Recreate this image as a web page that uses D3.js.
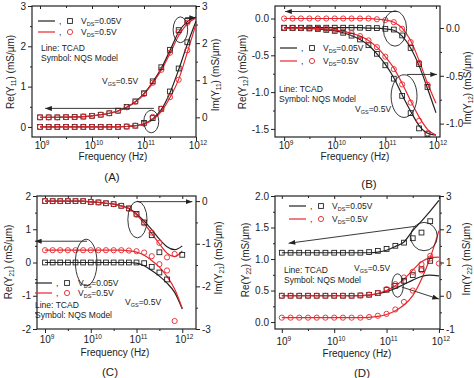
<!DOCTYPE html>
<html>
<head>
<meta charset="utf-8">
<script src="https://cdn.jsdelivr.net/npm/d3@7"></script>
<style>
  body { margin: 0; background: #fff; }
  svg { font-family: Arial, 'Liberation Sans', sans-serif; }
  .tick text { font-size: 10px; fill: #222; }
  .tick line { stroke: #222; }
</style>
</head>
<body>
<div id="graf"></div>
<script>
// I. Data
freq = [1e9, 1.47e9, 2.15e9, 3.16e9, 4.64e9, 6.81e9, 1e10, 1.47e10, 2.15e10, 3.16e10,
        4.64e10, 6.81e10, 1e11, 1.47e11, 2.15e11, 3.16e11, 4.64e11, 6.81e11, 1e12]
decades = [1e9, 1e10, 1e11, 1e12]
decadeExp = ['9', '10', '11', '12']
halfDecades = [3.16e8, 3.16e9, 3.16e10, 3.16e11, 3.16e12]

// (A) Y11
reY11Line005 = [0, 0, 0, 0, 0, 0, 0, 0, 0, 0, 0.01, 0.03, 0.08, 0.2, 0.43, 0.85, 1.42, 2.05, 2.62]
reY11Line05  = [0, 0, 0, 0, 0, 0, 0, 0, 0, 0, 0.01, 0.03, 0.07, 0.18, 0.38, 0.73, 1.18, 1.85, 2.55]
reY11Sym005  = [0, 0, 0, 0, 0, 0, 0, 0, 0, 0, 0.01, 0.03, 0.1, 0.22, 0.45, 0.88, 1.45, 2.1, null]
reY11Sym05   = [0, 0, 0, 0, 0, 0, 0, 0, 0, 0, 0.01, 0.03, 0.08, 0.25, 0.45, 0.74, 1.17, 1.9, null]
imY11Line005 = [0, 0, 0, 0.005, 0.01, 0.02, 0.04, 0.07, 0.11, 0.17, 0.27, 0.42, 0.64, 0.95, 1.32, 1.8, 2.3, 2.58, 2.7]
imY11Line05  = [0, 0, 0, 0.005, 0.01, 0.02, 0.04, 0.07, 0.11, 0.17, 0.27, 0.41, 0.62, 0.92, 1.27, 1.72, 2.2, 2.52, 2.68]
imY11Sym005  = [0, 0, 0, 0.005, 0.01, 0.02, 0.04, 0.07, 0.11, 0.18, 0.28, 0.43, 0.65, 0.97, 1.35, 1.82, 2.35, 2.6, null]
imY11Sym05   = [0, 0, 0, 0.005, 0.01, 0.02, 0.04, 0.07, 0.11, 0.17, 0.27, 0.42, 0.63, 0.93, 1.28, 1.74, 2.3, 2.55, null]

// (B) Y12
reY12Line005 = [-0.125, -0.125, -0.125, -0.125, -0.125, -0.125, -0.125, -0.125, -0.125, -0.125, -0.13, -0.13, -0.14, -0.16, -0.24, -0.4, -0.64, -0.95, -1.28]
reY12Line05  = [0, 0, 0, 0, 0, 0, 0, 0, 0, 0, 0, -0.01, -0.02, -0.05, -0.13, -0.3, -0.57, -0.88, -1.15]
reY12Sym005  = [-0.125, -0.125, -0.125, -0.125, -0.125, -0.125, -0.125, -0.125, -0.125, -0.125, -0.13, -0.13, -0.14, -0.15, -0.23, -0.4, -0.62, -0.93, null]
reY12Sym05   = [0, 0, 0, 0, 0, 0, 0, 0, 0, 0, 0, -0.01, -0.02, -0.05, -0.14, -0.32, -0.6, -0.9, null]
imY12Line005 = [0, 0, 0, -0.005, -0.01, -0.02, -0.03, -0.05, -0.08, -0.12, -0.18, -0.27, -0.38, -0.52, -0.7, -0.87, -1.02, -1.1, -1.12]
imY12Line05  = [0, 0, 0, 0, -0.005, -0.01, -0.02, -0.035, -0.055, -0.085, -0.13, -0.2, -0.3, -0.42, -0.58, -0.76, -0.93, -1.06, -1.12]
imY12Sym005  = [0, 0, 0, -0.005, -0.01, -0.02, -0.03, -0.05, -0.08, -0.12, -0.18, -0.27, -0.39, -0.53, -0.71, -0.89, -1.05, -1.11, null]
imY12Sym05   = [0, 0, 0, 0, -0.005, -0.01, -0.02, -0.035, -0.055, -0.085, -0.13, -0.2, -0.3, -0.43, -0.59, -0.78, -0.97, -1.1, null]

// (C) Y21
reY21Line005 = [0, 0, 0, 0, 0, 0, 0, 0, 0, 0, 0, 0, -0.02, -0.1, -0.24, -0.41, -0.62, -0.9, -1.4]
reY21Line05  = [0.37, 0.37, 0.37, 0.37, 0.37, 0.37, 0.37, 0.37, 0.37, 0.37, 0.37, 0.35, 0.31, 0.22, 0.06, -0.14, -0.42, -0.8, -1.38]
reY21Sym005  = [0, 0, 0, 0, 0, 0, 0, 0, 0, 0, 0, 0, 0, -0.02, -0.13, -0.3, -0.51, null, null]
reY21Sym05   = [0.37, 0.37, 0.37, 0.37, 0.37, 0.37, 0.37, 0.37, 0.37, 0.37, 0.37, 0.36, 0.34, 0.3, 0.19, -0.05, -0.24, -1.76, null]
imY21Line005 = [0, 0, 0, 0, 0, 0, -0.02, -0.03, -0.05, -0.07, -0.11, -0.17, -0.3, -0.47, -0.67, -0.89, -1.07, -1.14, -1.05]
imY21Line05  = [0, 0, 0, 0, 0, 0, -0.02, -0.03, -0.05, -0.07, -0.11, -0.18, -0.32, -0.52, -0.76, -1.0, -1.22, -1.3, -1.17]
imY21Sym005  = [0, 0, 0, 0, 0, 0, -0.02, -0.03, -0.05, -0.07, -0.11, -0.17, -0.3, -0.5, -0.8, -1.2, null, null, -1.26]
imY21Sym05   = [0, 0, 0, 0, 0, 0, -0.02, -0.03, -0.05, -0.07, -0.11, -0.18, -0.32, -0.52, -0.74, -0.98, -1.32, -1.24, null]

// (D) Y22
reY22Line005 = [1.1, 1.1, 1.1, 1.1, 1.1, 1.1, 1.1, 1.1, 1.1, 1.1, 1.1, 1.11, 1.14, 1.2, 1.27, 1.45, 1.6, 1.76, 1.93]
reY22Line05  = [0.07, 0.07, 0.07, 0.07, 0.07, 0.07, 0.07, 0.07, 0.07, 0.07, 0.075, 0.09, 0.12, 0.18, 0.27, 0.42, 0.68, 1.02, 1.45]
reY22Sym005  = [1.1, 1.1, 1.1, 1.1, 1.1, 1.1, 1.1, 1.1, 1.1, 1.1, 1.11, 1.13, 1.16, 1.21, 1.26, 1.33, 1.42, 1.6, null]
reY22Sym05   = [0.07, 0.07, 0.07, 0.07, 0.07, 0.07, 0.07, 0.07, 0.07, 0.07, 0.08, 0.1, 0.13, 0.2, 0.32, 0.5, 0.82, 1.05, null]
imY22Line005 = [0, 0, 0, 0, 0, 0, 0, 0, 0, 0.005, 0.02, 0.06, 0.13, 0.22, 0.34, 0.47, 0.58, 0.62, 0.6]
imY22Line05  = [0, 0, 0, 0, 0, 0, 0, 0, 0, 0.005, 0.02, 0.07, 0.16, 0.3, 0.5, 0.77, 1.02, 1.14, 1.16]
imY22Sym005  = [0, 0, 0, 0, 0, 0, 0, 0, 0, 0.01, 0.03, 0.08, 0.18, 0.3, 0.45, 0.62, 0.8, 1.05, null]
imY22Sym05   = [0, 0, 0, 0, 0, 0, 0, 0, 0, 0.01, 0.03, 0.08, 0.2, 0.35, 0.55, 0.72, 0.95, 1.12, 0.97]

// II. Configuración
ancho_total = 474
alto_total = 378
negro = '#222'
rojo = '#e8262d'

svg = d3.select('#graf').append('svg')
        .attr('width', ancho_total)
        .attr('height', alto_total)

defs = svg.append('defs')
defs.append('marker')
    .attr('id', 'flecha')
    .attr('viewBox', '0 0 8 6')
    .attr('refX', 8).attr('refY', 3)
    .attr('markerWidth', 7).attr('markerHeight', 5)
    .attr('markerUnits', 'userSpaceOnUse')
    .attr('orient', 'auto')
  .append('path')
    .attr('d', 'M0,0 L8,3 L0,6 Z')
    .attr('fill', negro)

fix = d => d.toFixed(1)
ent = d => String(d)

paneles = [
  { id: 'A', x0: 32, x1: 196, y0: 6, y1: 137, xd: [Math.pow(10, 8.846), 1e12],
    yL: [-0.25, 3], yR: [-0.53, 3], tL: [0, 1, 2, 3], mL: [0.5, 1.5, 2.5], tR: [0, 1, 2, 3], mR: [0.5, 1.5, 2.5],
    fL: ent, fR: ent, sub: '11',
    titL: [10, 72], titR: [215, 75], tickY: 149, freq: [113, 160], label: [112, 181],
    re: [reY11Line005, reY11Line05, reY11Sym005, reY11Sym05],
    im: [imY11Line005, imY11Line05, imY11Sym005, imY11Sym05],
    leg: [38, 21, 11], info: [41, 51], vgs: [102, 84],
    elipses: [[11.14, 0.134, 0.144, 0.28], [11.7, 2.41, 0.14, 0.32]],
    flechas: [[11.19, 0.46, 9.1, 0.46], [11.79, 2.71, 12.0, 2.71]] },
  { id: 'B', x0: 275, x1: 440, y0: 6, y1: 137, xd: [Math.pow(10, 8.82), Math.pow(10, 12.08)],
    yL: [-1.61, 0.17], yR: [-1.14, 0.23], tL: [0, -0.5, -1, -1.5], mL: [-0.25, -0.75, -1.25], tR: [0, -0.5, -1], mR: [-0.25, -0.75],
    fL: fix, fR: fix, sub: '12',
    titL: [242, 72], titR: [467, 88], tickY: 149, freq: [355, 160], label: [369, 188],
    re: [reY12Line005, reY12Line05, reY12Sym005, reY12Sym05],
    im: [imY12Line005, imY12Line05, imY12Sym005, imY12Sym05],
    leg: [280, 48, 13], info: [279, 92], vgs: [355, 112],
    elipses: [[11.19, -0.136, 0.23, 0.24], [11.37, -1.054, 0.256, 0.29]],
    flechas: [[11.23, 0.095, 9.02, 0.095], [11.43, -0.76, 12.02, -0.76]] },
  { id: 'C', x0: 37, x1: 196, y0: 196, y1: 329, xd: [Math.pow(10, 8.825), Math.pow(10, 12.3)],
    yL: [-2, 2], yR: [-3, 0.12], tL: [2, 1, 0, -1, -2], mL: [1.5, 0.5, -0.5, -1.5], tR: [0, -1, -2, -3], mR: [-0.5, -1.5, -2.5],
    fL: ent, fR: ent, sub: '21',
    titL: [8, 262], titR: [218, 258], tickY: 343, freq: [115, 356], label: [110, 376],
    re: [reY21Line005, reY21Line05, reY21Sym005, reY21Sym05],
    im: [imY21Line005, imY21Line05, imY21Sym005, imY21Sym05],
    leg: [35, 283, 10], info: [35, 308], vgs: [125, 305],
    elipses: [[11.02, 1.29, 0.21, 0.55], [9.9, 0, 0.236, 0.7]],
    flechas: [[11.01, 1.83, 12.22, 1.83], [9.92, 0.64, 8.78, 0.64]] },
  { id: 'D', x0: 275, x1: 440, y0: 196, y1: 329, xd: [Math.pow(10, 8.87), Math.pow(10, 12.02)],
    yL: [-0.11, 2], yR: [-1, 3], tL: [0, 0.5, 1, 1.5, 2], mL: [0.25, 0.75, 1.25, 1.75], tR: [-1, 0, 1, 2, 3], mR: [-0.5, 0.5, 1.5, 2.5],
    fL: fix, fR: ent, sub: '22',
    titL: [245, 260], titR: [466, 259], tickY: 345, freq: [357, 357], label: [362, 377],
    re: [reY22Line005, reY22Line05, reY22Sym005, reY22Sym05],
    im: [imY22Line005, imY22Line05, imY22Sym005, imY22Sym05],
    leg: [289, 206, 13], info: [284, 273], vgs: [354, 271],
    elipses: [[11.715, 1.357, 0.254, 0.225], [11.21, 0.58, 0.11, 0.186]],
    flechas: [[11.56, 1.52, 9.13, 1.25], [11.29, 0.556, 12.0, 0.365]] }
]

// III. Helpers
function tituloY(g, cx, cy, parte, sub) {
  t = g.append('text')
       .attr('transform', `translate(${cx},${cy}) rotate(-90)`)
       .attr('text-anchor', 'middle')
       .attr('dy', '0.35em')
       .style('font-size', '10px')
       .attr('fill', negro)
  t.append('tspan').text(parte + '(Y')
  t.append('tspan').attr('dy', 2.5).style('font-size', '6.5px').text(sub)
  t.append('tspan').attr('dy', -2.5).text(') (mS/\u00b5m)')
}

function textoV(g, x, y, sub, resto) {
  t = g.append('text').attr('x', x).attr('y', y)
       .style('font-size', '8.5px').attr('fill', negro)
  t.append('tspan').text('V')
  t.append('tspan').attr('dy', 2).style('font-size', '5.5px').text(sub)
  t.append('tspan').attr('dy', -2).text(resto)
}

function simbolo(g, color, cx, cy) {
  if (color === negro) {
    g.append('rect').attr('x', cx - 2.4).attr('y', cy - 2.4)
     .attr('width', 4.8).attr('height', 4.8)
     .attr('fill', 'none').attr('stroke', negro).attr('stroke-width', 0.9)
  } else {
    g.append('circle').attr('cx', cx).attr('cy', cy).attr('r', 2.6)
     .attr('fill', 'none').attr('stroke', rojo).attr('stroke-width', 0.9)
  }
}

// IV. Render
function render(p) {
  g = svg.append('g').attr('class', 'panel-' + p.id)

  x = d3.scaleLog().domain(p.xd).range([p.x0, p.x1])
  yL = d3.scaleLinear().domain(p.yL).range([p.y1, p.y0])
  yR = d3.scaleLinear().domain(p.yR).range([p.y1, p.y0])
  minX = halfDecades.filter(d => d >= p.xd[0] && d <= p.xd[1])

  // ejes
  ejes = [
    [d3.axisBottom(x).tickValues(decades).tickSize(4).tickFormat(''), `0,${p.y1}`],
    [d3.axisBottom(x).tickValues(minX).tickSize(2).tickFormat(''), `0,${p.y1}`],
    [d3.axisTop(x).tickValues(decades).tickSize(-3).tickFormat(''), `0,${p.y0}`],
    [d3.axisTop(x).tickValues(minX).tickSize(-2).tickFormat(''), `0,${p.y0}`],
    [d3.axisLeft(yL).tickValues(p.tL).tickSize(4).tickPadding(2).tickFormat(p.fL), `${p.x0},0`],
    [d3.axisLeft(yL).tickValues(p.mL).tickSize(2).tickFormat(''), `${p.x0},0`],
    [d3.axisRight(yR).tickValues(p.tR).tickSize(4).tickPadding(2).tickFormat(p.fR), `${p.x1},0`],
    [d3.axisRight(yR).tickValues(p.mR).tickSize(2).tickFormat(''), `${p.x1},0`]
  ]
  ejes.forEach(e => {
    ag = g.append('g').attr('transform', `translate(${e[1]})`).call(e[0])
    ag.select('.domain').remove()
    ag.selectAll('line').attr('stroke', negro)
  })

  g.append('rect')
   .attr('x', p.x0).attr('y', p.y0)
   .attr('width', p.x1 - p.x0).attr('height', p.y1 - p.y0)
   .attr('fill', 'none').attr('stroke', negro).attr('stroke-width', 1.2)

  decades.forEach((d, i) => {
    t = g.append('text').attr('x', x(d) + 2).attr('y', p.tickY)
         .attr('text-anchor', 'middle').style('font-size', '10px').attr('fill', negro)
    t.append('tspan').text('10')
    t.append('tspan').attr('dy', -4).style('font-size', '6.5px').text(decadeExp[i])
  })

  g.append('text').attr('x', p.freq[0]).attr('y', p.freq[1])
   .attr('text-anchor', 'middle').style('font-size', '10px').attr('fill', negro)
   .text('Frequency (Hz)')

  tituloY(g, p.titL[0], p.titL[1], 'Re', p.sub)
  tituloY(g, p.titR[0], p.titR[1], 'Im', p.sub)

  g.append('text').attr('x', p.label[0]).attr('y', p.label[1])
   .attr('text-anchor', 'middle').style('font-size', '11.5px').attr('fill', negro)
   .text(`(${p.id})`)

  // curvas
  grupos = [[p.re, yL], [p.im, yR]]
  grupos.forEach(([arr, ys]) => {
    [[arr[0], negro], [arr[1], rojo]].forEach(([vals, col]) => {
      linea = d3.line()
                .defined(d => d[1] !== null)
                .x(d => x(d[0]))
                .y(d => ys(d[1]))
                .curve(d3.curveMonotoneX)
      g.append('path')
       .datum(freq.map((f, i) => [f, vals[i]]))
       .attr('d', linea)
       .attr('fill', 'none').attr('stroke', col).attr('stroke-width', 1.2)
    })
    ;[[arr[2], negro], [arr[3], rojo]].forEach(([vals, col]) => {
      freq.forEach((f, i) => {
        if (vals[i] !== null) simbolo(g, col, x(f), ys(vals[i]))
      })
    })
  })

  // anotaciones
  p.elipses.forEach(e => {
    cx = x(Math.pow(10, e[0]))
    cy = yL(e[1])
    g.append('ellipse').attr('cx', cx).attr('cy', cy)
     .attr('rx', x(Math.pow(10, e[0] + e[2])) - cx)
     .attr('ry', yL(e[1] - e[3]) - cy)
     .attr('fill', 'none').attr('stroke', negro).attr('stroke-width', 0.9)
  })
  p.flechas.forEach(a => {
    g.append('line')
     .attr('x1', x(Math.pow(10, a[0]))).attr('y1', yL(a[1]))
     .attr('x2', x(Math.pow(10, a[2]))).attr('y2', yL(a[3]))
     .attr('stroke', negro).attr('stroke-width', 0.9)
     .attr('marker-end', 'url(#flecha)')
  })

  // leyenda
  lx = p.leg[0]; ly = p.leg[1]; dy = p.leg[2]
  ;[[negro, '=0.05V'], [rojo, '=0.5V']].forEach(([col, txt], i) => {
    yy = ly + i * dy
    g.append('line').attr('x1', lx).attr('x2', lx + 17).attr('y1', yy).attr('y2', yy)
     .attr('stroke', col).attr('stroke-width', 1.2)
    g.append('text').attr('x', lx + 21).attr('y', yy + 3)
     .style('font-size', '8.5px').attr('fill', negro).text(',')
    simbolo(g, col, lx + 32, yy)
    textoV(g, lx + 43, yy + 3, 'DS', txt)
  })
  g.append('text').attr('x', p.info[0]).attr('y', p.info[1])
   .style('font-size', '8.5px').attr('fill', negro).text('Line: TCAD')
  g.append('text').attr('x', p.info[0]).attr('y', p.info[1] + 10)
   .style('font-size', '8.5px').attr('fill', negro).text('Symbol: NQS Model')
  textoV(g, p.vgs[0], p.vgs[1], 'GS', '=0.5V')
}

// V. Despliegue
paneles.forEach(render)
</script>
</body>
</html>
